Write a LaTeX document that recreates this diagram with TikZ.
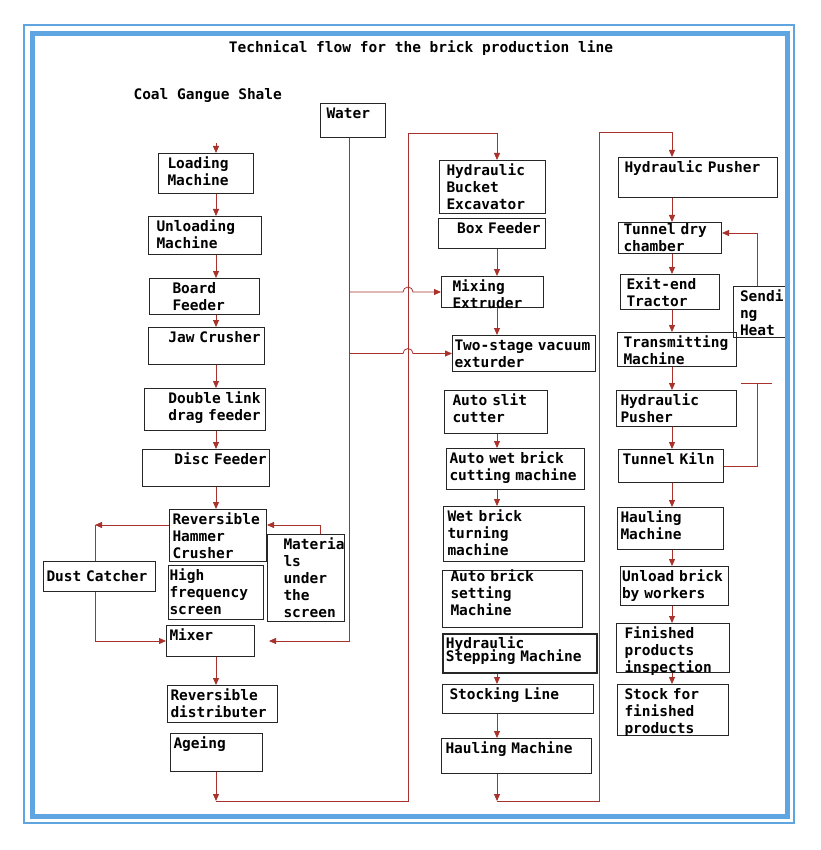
\documentclass[tikz,border=0pt]{standalone}
\usepackage{fontspec}
\setmonofont{DejaVu Sans Mono}
\usetikzlibrary{arrows.meta,calc}
\definecolor{frameblue}{RGB}{95,165,225}
\definecolor{flowred}{RGB}{170,50,45}
\hyphenpenalty=10000
\exhyphenpenalty=10000
\hbadness=10000
\hfuzz=200pt

\begin{document}
\begin{tikzpicture}[x=1pt, y=-1pt, every node/.style={font=\ttfamily\bfseries\fontsize{14.5}{17}\selectfont}]
  \tikzset{
    unit/.style={draw=black!85, line width=1pt, anchor=north west, align=left, inner xsep=3pt, inner ysep=4pt, text height=11pt},
    flow/.style={draw=flowred, line width=0.8pt, -{Triangle[length=7pt,width=6pt]}},
    link/.style={draw=flowred, line width=0.8pt}
  }
  \useasboundingbox (0,0) rectangle (820,850);

  \node (title) at (421,48) {Technical flow for the brick production line};
  \node[anchor=west] (src) at (130,95) {Coal Gangue Shale};

  % raw material line
  \node[unit, minimum width=65pt, text width=53pt, text depth=15pt] (water) at (320,103) {Water};
  \node[unit, minimum width=95pt, text width=77pt, text depth=21pt] (load) at (158,153) {Loading\\Machine};
  \node[unit, minimum width=113pt, text width=97pt, text depth=19pt] (unload) at (148,216) {Unloading\\Machine};
  \node[unit, minimum width=110pt, text width=64pt, text depth=17pt] (board) at (149,278) {Board\\Feeder};
  \node[unit, minimum width=116pt, text width=108pt, text depth=18pt, align=right] (jaw) at (148,327) {Jaw Crusher};
  \node[unit, minimum width=121pt, text width=111pt, text depth=23pt, align=right] (dbl) at (144,388) {Double link\\drag feeder};
  \node[unit, minimum width=127pt, text width=121pt, text depth=18pt, align=right] (disc) at (142,449) {Disc Feeder};
  \node[unit, minimum width=97pt, text width=91pt, text depth=33pt] (hrc) at (169,509) {Reversible\\Hammer\\Crusher};
  \node[unit, minimum width=95pt, text width=93pt, inner xsep=1pt, text depth=35pt] (hfs) at (168,565) {High\\frequency\\screen};
  \node[unit, minimum width=77pt, text width=45pt, text depth=68pt] (mat) at (267,534) {Materia\\ls\\under\\the\\screen};
  \node[unit, minimum width=112pt, text width=106pt, inner ysep=9pt, text depth=1pt] (dust) at (43,561) {Dust Catcher};
  \node[unit, minimum width=88pt, text width=82pt, text depth=12pt] (mixer) at (166,625) {Mixer};
  \node[unit, minimum width=110pt, text width=104pt, text depth=18pt] (rdist) at (167,685) {Reversible\\distributer};
  \node[unit, minimum width=92pt, text width=86pt, text depth=19pt] (age) at (170,733) {Ageing};

  % forming line
  \node[unit, minimum width=106pt, text width=92pt, text depth=34pt] (hbe) at (439,160) {Hydraulic\\Bucket\\Excavator};
  \node[unit, minimum width=107pt, text width=97pt, text depth=11pt, align=right] (boxf) at (438,218) {Box Feeder};
  \node[unit, minimum width=102pt, text width=80pt, text depth=12pt] (mixe) at (441,276) {Mixing\\Extruder};
  \node[unit, minimum width=143pt, text width=139pt, inner xsep=2pt, text depth=17pt] (two) at (452,335) {Two-stage vacuum\\exturder};
  \node[unit, minimum width=103pt, text width=87pt, text depth=24pt] (slit) at (444,390) {Auto slit\\cutter};
  \node[unit, minimum width=138pt, text width=132pt, text depth=22pt] (wet) at (446,448) {Auto wet brick\\cutting machine};
  \node[unit, minimum width=141pt, text width=133pt, text depth=36pt] (turn) at (443,506) {Wet brick\\turning\\machine};
  \node[unit, minimum width=140pt, text width=124pt, inner ysep=0pt, text depth=46pt] (sett) at (442,570) {Auto brick\\setting\\Machine};
  \node[unit, minimum width=154pt, text width=148pt, text depth=20pt, line width=1.6pt] (hstep) at (442,633) {Hydraulic\\[-4pt]Stepping Machine};
  \node[unit, minimum width=151pt, text width=137pt, text depth=10pt] (stock) at (442,684) {Stocking Line};
  \node[unit, minimum width=150pt, text width=142pt, text depth=16pt] (haul) at (441,738) {Hauling Machine};

  % drying and firing line
  \node[unit, minimum width=159pt, text width=147pt, text depth=21pt] (hp) at (618,157) {Hydraulic Pusher};
  \node[unit, minimum width=103pt, text width=93pt, inner ysep=1pt, text depth=18pt] (tdc) at (618,222) {Tunnel dry\\chamber};
  \node[unit, minimum width=99pt, text width=87pt, text depth=16pt] (exit) at (620,274) {Exit-end\\Tractor};
  \node[unit, minimum width=119pt, text width=107pt, text depth=15pt] (trans) at (617,332) {Transmitting\\Machine};
  \node[unit, minimum width=120pt, text width=112pt, text depth=17pt] (hp2) at (616,390) {Hydraulic\\Pusher};
  \node[unit, minimum width=105pt, text width=97pt, text depth=14pt] (kiln) at (618,449) {Tunnel Kiln};
  \node[unit, minimum width=106pt, text width=100pt, text depth=23pt] (haul2) at (617,507) {Hauling\\Machine};
  \node[unit, minimum width=108pt, text width=105pt, inner xsep=1.5pt, text depth=20pt] (unld) at (620,566) {Unload brick\\by workers};
  \node[unit, minimum width=113pt, text width=97pt, text depth=30pt] (fpi) at (616,623) {Finished\\products\\inspection};
  \node[unit, minimum width=111pt, text width=97pt, text depth=32pt] (stk) at (617,684) {Stock for\\finished\\products};
  \node[unit, minimum width=53pt, text width=40pt, text depth=32pt] (heat) at (733,286) {Sendi\\ng\\Heat};

  % left column flow
  \coordinate (lc) at (216,0);
  \coordinate (feed) at (216,143);
  \draw[flow] (feed) -- (load.north -| lc);
  \foreach \a/\b in {load/unload, unload/board, board/jaw, jaw/dbl, dbl/disc, disc/hrc, mixer/rdist}
    \draw[flow] (\a.south -| lc) -- (\b.north -| lc);
  \coordinate (dc) at (95,525);
  \draw[flow] (hrc.west |- dc) -- (dc);
  \draw[link] (dc) -- (dust.north -| dc);
  \draw[flow] (dust.south -| dc) |- (mixer.west);
  \coordinate (mx) at (320,525);
  \draw[flow] (mat.north -| mx) |- (hrc.east |- mx);

  % water supply
  \coordinate (wx) at (349,0);
  \coordinate (jx) at (403,0);
  \draw[flow, shorten >=14pt] (water.south -| wx) |- (mixer.east);
  \draw[flow] (mixe.west -| wx) -- (mixe.west -| jx) arc[start angle=180, end angle=0, radius=5pt] -- (mixe.west);
  \draw[flow] (two.west -| wx) -- (two.west -| jx) arc[start angle=180, end angle=0, radius=5pt] -- (two.west);

  % left to middle
  \coordinate (lb) at (216,801);
  \coordinate (lt) at (408,133);
  \draw[flow] (age.south -| lc) -- (lb);
  \draw[flow] (lb) -| (lt) -| (hbe.north -| 497,0);

  % middle column flow
  \coordinate (mc) at (497,0);
  \foreach \a/\b in {boxf/mixe, mixe/two, slit/wet, wet/turn, hstep/stock, stock/haul}
    \draw[flow] (\a.south -| mc) -- (\b.north -| mc);

  % middle to right
  \coordinate (rc) at (672,0);
  \coordinate (mb) at (497,801);
  \coordinate (mt) at (599,132);
  \draw[flow] (haul.south -| mc) -- (mb);
  \draw[flow] (mb) -| (mt) -| (hp.north -| rc);

  % right column flow
  \foreach \a/\b in {hp/tdc, tdc/exit, exit/trans, trans/hp2, hp2/kiln, kiln/haul2, haul2/unld, unld/fpi, fpi/stk}
    \draw[flow] (\a.south -| rc) -- (\b.north -| rc);
  \coordinate (hx) at (757,233);
  \draw[flow] (heat.north -| hx) |- (tdc.east |- hx);
  \coordinate (hb) at (757,383);
  \coordinate (hbl) at (741,383);
  \coordinate (hbr) at (772,383);
  \draw[link] (kiln.east) -| (hb);
  \draw[link] (hbl) -- (hbr);

  % frame
  \draw[frameblue, line width=1.5pt] (24,25) rectangle (794,823);
  \draw[frameblue, line width=5pt] (32.5,33.5) rectangle (787.5,816.5);
\end{tikzpicture}
\end{document}
